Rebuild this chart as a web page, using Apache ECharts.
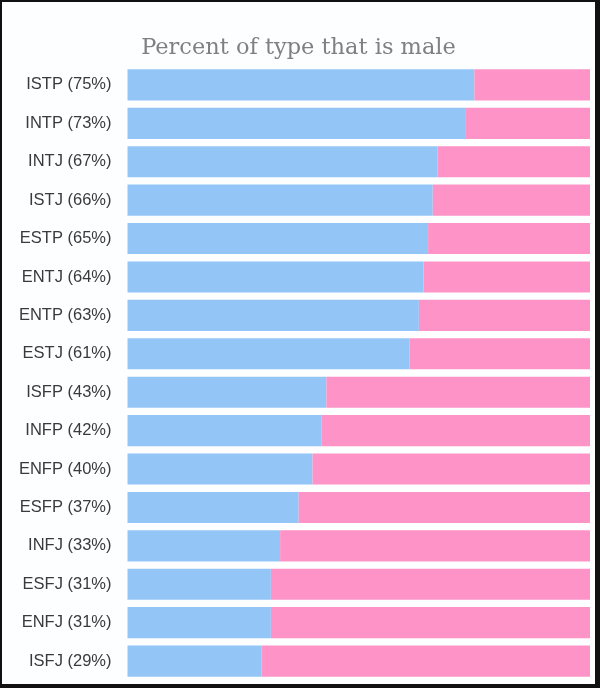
<!DOCTYPE html>
<html>
<head>
<meta charset="utf-8">
<script src="https://cdn.jsdelivr.net/npm/echarts@6/dist/echarts.min.js"></script>
<style>
  html, body { margin: 0; padding: 0; background: #000; }
  #frame { position: relative; width: 600px; height: 688px; background: #111; }
  #chart { position: absolute; left: 2px; top: 2px; width: 593px; height: 682px; background: #fdfeff; }
</style>
</head>
<body>
<div id="frame"><div id="chart"></div></div>
<script>
const categories = ['ISTP (75%)','INTP (73%)','INTJ (67%)','ISTJ (66%)','ESTP (65%)','ENTJ (64%)','ENTP (63%)','ESTJ (61%)','ISFP (43%)','INFP (42%)','ENFP (40%)','ESFP (37%)','INFJ (33%)','ESFJ (31%)','ENFJ (31%)','ISFJ (29%)'];
const maleValues = [75,73,67,66,65,64,63,61,43,42,40,37,33,31,31,29];
const femaleValues = [25,27,33,34,35,36,37,39,57,58,60,63,67,69,69,71];
const titleText = 'Percent of type that is male';

const chart = echarts.init(document.getElementById('chart'));
chart.setOption({
  animation: false,
  backgroundColor: '#fdfeff',
  title: {
    text: titleText,
    left: 'center',
    top: 30,
    textStyle: { fontFamily: 'DejaVu Serif', fontSize: 22.5, fontWeight: 'normal', color: '#808080' }
  },
  grid: { left: 125.5, right: 5, top: 63.7, bottom: 3.7, containLabel: false },
  xAxis: { type: 'value', min: 0, max: 100, show: false },
  yAxis: {
    type: 'category',
    inverse: true,
    data: categories,
    axisLine: { show: false },
    axisTick: { show: false },
    splitLine: { show: false },
    axisLabel: { margin: 16, fontSize: 16.5, color: '#3a3a3a', fontFamily: 'Liberation Sans, Arial, sans-serif' }
  },
  series: [
    { name: 'Male', type: 'bar', stack: 'total', data: maleValues, barCategoryGap: '19%', itemStyle: { color: '#93c6f7' } },
    { name: 'Female', type: 'bar', stack: 'total', data: femaleValues, barCategoryGap: '19%', itemStyle: { color: '#fd93c7' } }
  ]
});
</script>
</body>
</html>
